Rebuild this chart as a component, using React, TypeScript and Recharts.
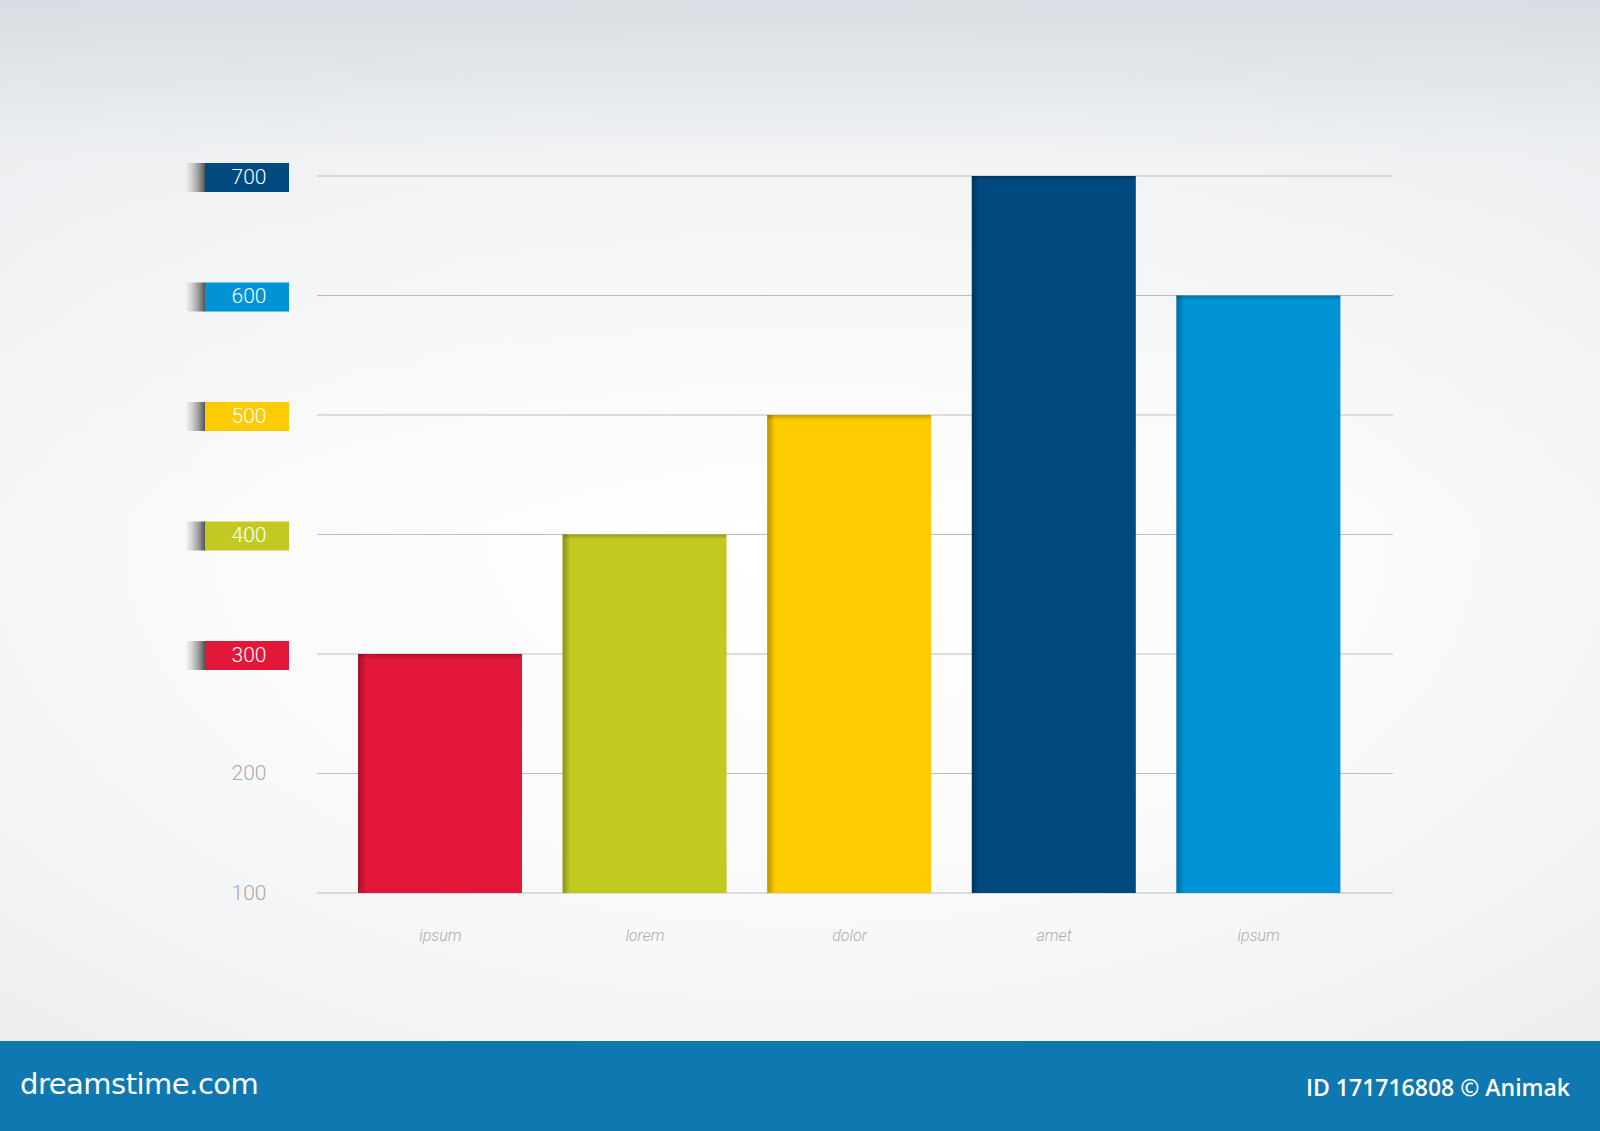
import React from 'react';
import { BarChart, Bar, XAxis, YAxis, CartesianGrid, Cell } from 'recharts';

const categories = ['ipsum', 'lorem', 'dolor', 'amet', 'ipsum'];
const values = [300, 400, 500, 700, 600];
const barColors = ['#e3173a', '#c2ca22', '#fecb00', '#004a80', '#0094d7'];
const yTicks = [100, 200, 300, 400, 500, 600, 700];
const tickColors: Record<number, string> = {
  300: '#e3173a',
  400: '#c2ca22',
  500: '#fecb00',
  600: '#0094d7',
  700: '#004a80',
};

const data = categories.map((name, i) => ({ id: i, name, value: values[i] }));

// value labels on the left: coloured tag with a soft shadow strip, or plain grey text
function YTick({ x, y, payload }: any) {
  const v = payload.value;
  const c = tickColors[v];
  const font = { fontFamily: 'Roboto, sans-serif', fontWeight: 300, fontSize: 21 };
  if (!c) {
    return (
      <text x={x - 68} y={y + 1} textAnchor="middle" dominantBaseline="middle" fill="#a9a9a9" style={font}>
        {v}
      </text>
    );
  }
  const gid = `tagShade${v}`;
  return (
    <g>
      <defs>
        <linearGradient id={gid} x1="0" y1="0" x2="1" y2="0">
          <stop offset="0%" stopColor="#9a9a9a" stopOpacity={0.05} />
          <stop offset="55%" stopColor="#6a6a6a" stopOpacity={0.55} />
          <stop offset="100%" stopColor="#3c3c3c" stopOpacity={0.95} />
        </linearGradient>
      </defs>
      <rect x={x - 131} y={y - 13} width={20} height={29} fill={`url(#${gid})`} />
      <rect x={x - 112} y={y - 13} width={84} height={29} fill={c} />
      <text x={x - 68} y={y + 2} textAnchor="middle" dominantBaseline="middle" fill="#ffffff" style={font}>
        {v}
      </text>
    </g>
  );
}

function XTick({ x, y, payload }: any) {
  return (
    <text
      x={x}
      y={y + 42}
      textAnchor="middle"
      dominantBaseline="middle"
      fill="#adadad"
      style={{ fontFamily: 'Roboto, sans-serif', fontWeight: 300, fontStyle: 'italic', fontSize: 16 }}
    >
      {categories[payload.value]}
    </text>
  );
}

// flat bar with a faint inner shadow on its left and top edges
function ShadedBar(props: any) {
  const { x, y, width, height, fill, index } = props;
  const gl = `barShadeL${index}`;
  const gt = `barShadeT${index}`;
  return (
    <g>
      <defs>
        <linearGradient id={gl} x1="0" y1="0" x2="1" y2="0">
          <stop offset="0%" stopColor="#000" stopOpacity={0.28} />
          <stop offset="100%" stopColor="#000" stopOpacity={0} />
        </linearGradient>
        <linearGradient id={gt} x1="0" y1="0" x2="0" y2="1">
          <stop offset="0%" stopColor="#000" stopOpacity={0.22} />
          <stop offset="100%" stopColor="#000" stopOpacity={0} />
        </linearGradient>
      </defs>
      <rect x={x} y={y} width={width} height={height} fill={fill} />
      <rect x={x} y={y} width={8} height={height} fill={`url(#${gl})`} />
      <rect x={x} y={y} width={width} height={5} fill={`url(#${gt})`} />
    </g>
  );
}

export default function App() {
  return (
    <div
      style={{
        position: 'absolute',
        left: 0,
        top: 0,
        width: 1600,
        height: 1131,
        overflow: 'hidden',
        background:
          'radial-gradient(ellipse 75% 60% at 50% 48%, #ffffff 0%, #fbfbfb 45%, #eceef0 100%)',
      }}
    >
      <div
        style={{
          position: 'absolute',
          left: 0,
          top: 0,
          width: 1600,
          height: 520,
          background: 'linear-gradient(to bottom, rgba(214,220,226,0.9) 0%, rgba(235,238,241,0.5) 30%, rgba(255,255,255,0) 100%)',
        }}
      />
      <div style={{ position: 'absolute', left: 0, top: 0 }}>
        <BarChart
          width={1600}
          height={1131}
          data={data}
          margin={{ top: 176, right: 207, bottom: 178, left: 187 }}
        >
          <CartesianGrid horizontal vertical={false} stroke="#bdbdbd" strokeWidth={1.2} />
          <XAxis
            dataKey="id"
            type="category"
            axisLine={false}
            tickLine={false}
            tickSize={0}
            height={60}
            padding={{ left: 21, right: 32 }}
            tick={<XTick />}
            interval={0}
          />
          <YAxis
            type="number"
            domain={[100, 700]}
            ticks={yTicks}
            interval={0}
            axisLine={false}
            tickLine={false}
            tickSize={0}
            tickMargin={0}
            width={130}
            tick={<YTick />}
          />
          <Bar dataKey="value" barSize={164} isAnimationActive={false} shape={<ShadedBar />}>
            {data.map((d, i) => (
              <Cell key={`bar-${i}`} fill={barColors[i]} />
            ))}
          </Bar>
        </BarChart>
      </div>
      <div
        style={{
          position: 'absolute',
          left: 0,
          top: 1041,
          width: 1600,
          height: 90,
          background: '#0f78b0',
          color: '#ffffff',
        }}
      >
        <div
          style={{
            position: 'absolute',
            left: 20,
            top: 26,
            fontFamily: '"DejaVu Sans", sans-serif',
            fontSize: 29,
            letterSpacing: -0.5,
          }}
        >
          dreamstime.com
        </div>
        <div
          style={{
            position: 'absolute',
            right: 30,
            top: 30,
            fontFamily: '"Open Sans", sans-serif',
            fontWeight: 600,
            fontSize: 23,
          }}
        >
          ID 171716808 © Animak
        </div>
      </div>
    </div>
  );
}
